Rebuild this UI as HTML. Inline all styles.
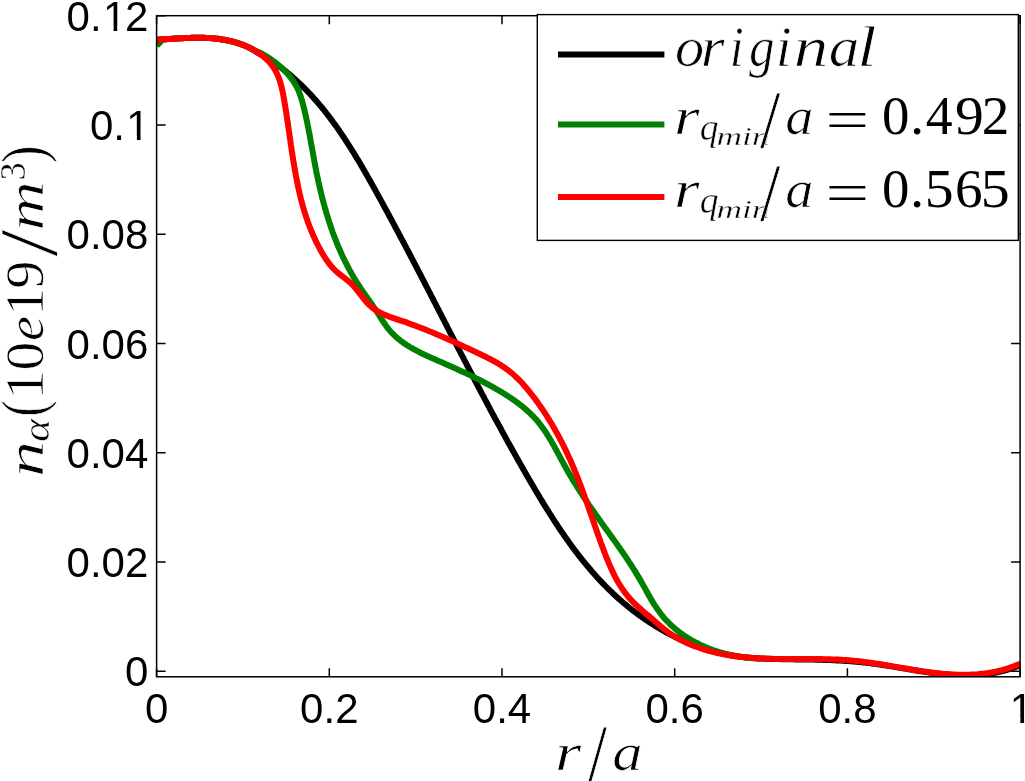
<!DOCTYPE html>
<html><head><meta charset="utf-8"><title>n_alpha profile</title>
<style>
html,body{margin:0;padding:0;background:#fff;}
body{width:1025px;height:781px;overflow:hidden;}
svg{display:block;}
.tk{font-family:"Liberation Sans",Arial,sans-serif;font-size:42px;fill:#000;}
.mi{font-family:"Liberation Serif","Times New Roman",serif;font-style:italic;fill:#000;stroke:#fff;}
.rm{font-family:"Liberation Serif","Times New Roman",serif;fill:#000;stroke:#fff;}
</style></head>
<body>
<svg width="1025" height="781" viewBox="0 0 1025 781">
<rect x="0" y="0" width="1025" height="781" fill="#fff"/>
<defs><clipPath id="ax"><rect x="156.6" y="15.7" width="863.5" height="661.1"/></clipPath></defs>
<g clip-path="url(#ax)" fill="none" stroke-width="6" stroke-linejoin="round" stroke-linecap="butt">
<path d="M157.0 39.8 L158.5 39.7 L160.0 39.6 L161.5 39.5 L163.0 39.4 L164.5 39.3 L166.0 39.2 L167.5 39.1 L169.0 39.0 L170.5 38.9 L172.0 38.8 L173.5 38.7 L175.0 38.6 L176.6 38.5 L178.1 38.4 L179.6 38.3 L181.1 38.2 L182.7 38.2 L184.2 38.1 L185.7 38.0 L187.3 38.0 L188.8 37.9 L190.3 37.9 L191.9 37.8 L193.4 37.8 L194.9 37.8 L196.4 37.7 L198.0 37.7 L199.5 37.7 L201.0 37.8 L202.6 37.8 L204.1 37.8 L205.6 37.9 L207.2 38.0 L208.7 38.0 L210.2 38.1 L211.7 38.2 L213.2 38.4 L214.8 38.5 L216.3 38.7 L217.8 38.8 L219.3 39.0 L220.8 39.2 L222.3 39.5 L223.8 39.7 L225.3 40.0 L226.8 40.3 L228.3 40.6 L229.8 40.9 L231.2 41.3 L232.7 41.6 L234.2 42.0 L235.7 42.5 L237.1 42.9 L238.6 43.4 L240.0 43.9 L241.5 44.4 L242.9 44.9 L244.4 45.5 L245.8 46.1 L247.2 46.7 L248.9 47.5 L250.2 48.2 L251.5 48.9 L252.8 49.7 L254.1 50.5 L255.4 51.3 L256.7 52.1 L258.0 52.9 L259.3 53.6 L260.5 54.3 L261.8 55.0 L263.1 55.8 L264.3 56.5 L265.6 57.2 L266.8 58.0 L268.1 58.8 L269.3 59.6 L270.5 60.3 L271.7 61.1 L272.9 62.0 L274.2 62.8 L275.4 63.6 L276.6 64.5 L277.7 65.3 L278.9 66.2 L280.1 67.0 L281.3 67.9 L282.5 68.8 L283.6 69.7 L284.8 70.6 L285.9 71.5 L287.1 72.4 L288.2 73.4 L289.3 74.3 L290.5 75.3 L291.6 76.2 L292.7 77.2 L293.8 78.2 L294.9 79.1 L296.0 80.1 L297.1 81.1 L298.1 82.1 L299.2 83.1 L300.3 84.1 L301.3 85.1 L302.4 86.2 L303.4 87.2 L304.5 88.2 L305.5 89.3 L306.5 90.3 L307.6 91.4 L308.6 92.5 L309.6 93.5 L310.6 94.6 L311.6 95.7 L312.6 96.8 L313.6 97.9 L314.6 99.0 L315.5 100.1 L316.5 101.2 L317.5 102.3 L318.4 103.4 L319.4 104.5 L320.3 105.7 L321.3 106.8 L322.2 107.9 L323.1 109.1 L324.1 110.2 L325.0 111.4 L325.9 112.5 L326.8 113.7 L327.7 114.9 L328.6 116.0 L329.5 117.2 L330.4 118.4 L331.3 119.6 L332.2 120.8 L333.0 122.0 L333.9 123.2 L334.8 124.4 L335.7 125.6 L336.5 126.8 L337.4 128.0 L338.2 129.2 L339.1 130.4 L339.9 131.7 L340.8 132.9 L341.6 134.1 L342.4 135.3 L343.2 136.6 L344.1 137.8 L344.9 139.1 L345.7 140.3 L346.5 141.6 L347.3 142.8 L348.1 144.1 L348.9 145.3 L349.8 146.6 L350.5 147.9 L351.3 149.1 L352.1 150.4 L352.9 151.7 L353.7 152.9 L354.5 154.2 L355.3 155.5 L356.0 156.8 L356.8 158.1 L357.6 159.3 L358.4 160.6 L359.1 161.9 L359.9 163.2 L360.7 164.5 L361.4 165.8 L362.2 167.1 L362.9 168.4 L363.7 169.7 L364.4 171.0 L365.2 172.3 L365.9 173.6 L366.7 174.9 L367.4 176.2 L368.2 177.5 L368.9 178.8 L369.6 180.1 L370.4 181.4 L371.1 182.7 L371.8 184.0 L372.6 185.3 L373.3 186.6 L374.0 187.9 L374.8 189.2 L375.5 190.6 L376.2 191.9 L376.9 193.2 L377.7 194.5 L378.4 195.8 L379.1 197.1 L379.8 198.4 L380.5 199.7 L381.3 201.0 L382.0 202.4 L382.7 203.7 L383.4 205.0 L384.1 206.3 L384.8 207.6 L385.5 208.9 L386.3 210.2 L387.0 211.5 L387.7 212.8 L388.4 214.2 L389.1 215.5 L389.8 216.8 L390.5 218.1 L391.2 219.4 L391.9 220.7 L392.6 222.0 L393.3 223.3 L394.0 224.6 L394.7 226.0 L395.4 227.3 L396.1 228.6 L396.8 229.9 L397.5 231.2 L398.2 232.5 L398.9 233.8 L399.6 235.1 L400.3 236.5 L401.0 237.8 L401.7 239.1 L402.4 240.4 L403.1 241.7 L403.8 243.0 L404.5 244.3 L405.2 245.6 L405.9 247.0 L406.6 248.3 L407.3 249.6 L408.0 250.9 L408.6 252.2 L409.3 253.5 L410.0 254.8 L410.7 256.2 L411.4 257.5 L412.1 258.8 L412.8 260.1 L413.4 261.4 L414.1 262.7 L414.8 264.0 L415.5 265.3 L416.2 266.7 L416.9 268.0 L417.6 269.3 L418.2 270.6 L418.9 271.9 L419.6 273.2 L420.3 274.5 L421.0 275.8 L421.6 277.2 L422.3 278.5 L423.0 279.8 L423.7 281.1 L424.4 282.4 L425.0 283.7 L425.7 285.0 L426.4 286.4 L427.1 287.7 L427.8 289.0 L428.4 290.3 L429.1 291.6 L429.8 292.9 L430.5 294.2 L431.1 295.5 L431.8 296.9 L432.5 298.2 L433.2 299.5 L433.8 300.8 L434.5 302.1 L435.2 303.4 L435.9 304.7 L436.5 306.0 L437.2 307.4 L437.9 308.7 L438.6 310.0 L439.2 311.3 L439.9 312.6 L440.6 313.9 L441.3 315.2 L441.9 316.5 L442.6 317.9 L443.3 319.2 L444.0 320.5 L444.6 321.8 L445.3 323.1 L446.0 324.4 L446.7 325.7 L447.3 327.0 L448.0 328.4 L448.7 329.7 L449.4 331.0 L450.0 332.3 L450.7 333.6 L451.4 334.9 L452.1 336.2 L452.7 337.5 L453.4 338.8 L454.1 340.2 L454.8 341.5 L455.4 342.8 L456.1 344.1 L456.8 345.4 L457.5 346.7 L458.1 348.0 L458.8 349.3 L459.5 350.6 L460.2 352.0 L460.8 353.3 L461.5 354.6 L462.2 355.9 L462.9 357.2 L463.6 358.5 L464.2 359.8 L464.9 361.1 L465.6 362.4 L466.3 363.7 L467.0 365.1 L467.6 366.4 L468.3 367.7 L469.0 369.0 L469.7 370.3 L470.4 371.6 L471.0 372.9 L471.7 374.2 L472.4 375.5 L473.1 376.8 L473.8 378.1 L474.5 379.4 L475.1 380.8 L475.8 382.1 L476.5 383.4 L477.2 384.7 L477.9 386.0 L478.6 387.3 L479.3 388.6 L479.9 389.9 L480.6 391.2 L481.3 392.5 L482.0 393.8 L482.7 395.1 L483.4 396.4 L484.1 397.7 L484.8 399.1 L485.5 400.4 L486.2 401.7 L486.9 403.0 L487.6 404.3 L488.2 405.6 L488.9 406.9 L489.6 408.2 L490.3 409.5 L491.0 410.8 L491.7 412.1 L492.4 413.4 L493.1 414.7 L493.8 416.0 L494.5 417.3 L495.2 418.6 L495.9 419.9 L496.6 421.2 L497.4 422.5 L498.1 423.8 L498.8 425.1 L499.5 426.4 L500.2 427.7 L500.9 429.0 L501.6 430.3 L502.3 431.6 L503.0 432.9 L503.7 434.2 L504.4 435.5 L505.2 436.8 L505.9 438.2 L506.6 439.5 L507.3 440.8 L508.0 442.1 L508.7 443.4 L509.5 444.6 L510.2 445.9 L510.9 447.2 L511.6 448.5 L512.3 449.8 L513.1 451.1 L513.8 452.4 L514.5 453.7 L515.3 455.0 L516.0 456.3 L516.7 457.6 L517.4 458.9 L518.2 460.2 L518.9 461.5 L519.6 462.8 L520.4 464.1 L521.1 465.4 L521.9 466.7 L522.6 468.0 L523.3 469.3 L524.1 470.6 L524.8 471.9 L525.6 473.2 L526.3 474.5 L527.0 475.8 L527.8 477.1 L528.5 478.4 L529.3 479.7 L530.0 480.9 L530.8 482.2 L531.5 483.5 L532.3 484.8 L533.1 486.1 L533.8 487.4 L534.6 488.7 L535.3 490.0 L536.1 491.3 L536.9 492.6 L537.6 493.8 L538.4 495.1 L539.2 496.4 L539.9 497.7 L540.7 499.0 L541.5 500.3 L542.3 501.5 L543.0 502.8 L543.8 504.1 L544.6 505.4 L545.4 506.7 L546.2 507.9 L547.0 509.2 L547.8 510.5 L548.6 511.7 L549.4 513.0 L550.2 514.3 L551.0 515.5 L551.8 516.8 L552.6 518.1 L553.4 519.3 L554.2 520.6 L555.0 521.8 L555.8 523.1 L556.7 524.3 L557.5 525.6 L558.3 526.8 L559.1 528.1 L560.0 529.3 L560.8 530.5 L561.6 531.8 L562.5 533.0 L563.3 534.2 L564.2 535.5 L565.0 536.7 L565.9 537.9 L566.7 539.1 L567.6 540.3 L568.5 541.6 L569.3 542.8 L570.2 544.0 L571.1 545.2 L572.0 546.4 L572.8 547.6 L573.7 548.8 L574.6 550.0 L575.5 551.2 L576.4 552.3 L577.3 553.5 L578.2 554.7 L579.1 555.9 L580.0 557.0 L581.0 558.2 L581.9 559.4 L582.8 560.5 L583.7 561.7 L584.7 562.8 L585.6 564.0 L586.6 565.1 L587.5 566.2 L588.5 567.4 L589.4 568.5 L590.4 569.6 L591.3 570.8 L592.3 571.9 L593.3 573.0 L594.3 574.1 L595.2 575.2 L596.2 576.3 L597.2 577.4 L598.2 578.5 L599.2 579.6 L600.2 580.6 L601.2 581.7 L602.3 582.8 L603.3 583.8 L604.3 584.9 L605.4 586.0 L606.4 587.0 L607.4 588.1 L608.5 589.1 L609.5 590.1 L610.6 591.1 L611.7 592.2 L612.7 593.2 L613.8 594.2 L614.9 595.2 L616.0 596.2 L617.1 597.2 L618.2 598.2 L619.3 599.2 L620.4 600.1 L621.5 601.1 L622.6 602.1 L623.7 603.0 L624.9 604.0 L626.0 604.9 L627.1 605.9 L628.3 606.8 L629.4 607.7 L630.6 608.7 L631.8 609.6 L632.9 610.5 L634.1 611.4 L635.3 612.3 L636.5 613.2 L637.6 614.0 L638.8 614.9 L640.0 615.8 L641.2 616.6 L642.4 617.5 L643.6 618.3 L644.9 619.2 L646.1 620.0 L647.3 620.8 L648.5 621.6 L649.8 622.4 L651.0 623.2 L652.2 624.0 L653.5 624.8 L654.7 625.6 L656.0 626.4 L657.2 627.1 L658.5 627.9 L659.8 628.6 L661.1 629.4 L662.3 630.1 L663.6 630.8 L664.9 631.6 L666.2 632.3 L667.5 633.0 L668.8 633.7 L670.1 634.3 L671.4 635.0 L672.7 635.7 L674.0 636.3 L675.3 637.0 L676.6 637.6 L678.0 638.3 L679.3 638.9 L680.6 639.5 L682.0 640.1 L683.3 640.7 L684.7 641.3 L686.0 641.9 L687.4 642.4 L688.7 643.0 L690.1 643.5 L691.4 644.1 L692.8 644.6 L694.2 645.1 L695.5 645.6 L696.9 646.2 L698.3 646.6 L699.7 647.1 L701.1 647.6 L702.5 648.1 L703.8 648.5 L705.2 649.0 L706.6 649.4 L708.0 649.8 L709.4 650.3 L710.9 650.7 L712.3 651.1 L713.7 651.4 L715.1 651.8 L716.5 652.2 L717.9 652.5 L719.4 652.9 L720.8 653.2 L722.2 653.5 L723.7 653.8 L725.1 654.1 L726.5 654.4 L728.0 654.7 L729.4 655.0 L730.9 655.2 L732.3 655.5 L733.8 655.7 L735.2 656.0 L736.7 656.2 L738.2 656.4 L739.6 656.6 L741.1 656.8 L742.5 656.9 L744.0 657.1 L745.5 657.3 L747.0 657.4 L748.4 657.6 L749.9 657.7 L751.4 657.8 L752.9 657.9 L754.4 658.1 L755.8 658.2 L757.3 658.3 L758.8 658.4 L760.3 658.4 L761.8 658.5 L763.3 658.6 L764.8 658.7 L766.3 658.7 L767.8 658.8 L769.2 658.8 L770.7 658.9 L772.2 658.9 L773.7 659.0 L775.2 659.0 L776.7 659.1 L778.2 659.1 L779.7 659.1 L781.2 659.2 L782.7 659.2 L784.2 659.2 L785.7 659.2 L787.2 659.3 L788.7 659.3 L790.2 659.3 L791.7 659.3 L793.2 659.3 L794.7 659.4 L796.2 659.4 L797.7 659.4 L799.2 659.4 L800.7 659.4 L802.2 659.4 L803.7 659.5 L805.2 659.5 L806.7 659.5 L808.2 659.5 L809.7 659.6 L811.2 659.6 L812.7 659.6 L814.2 659.6 L815.7 659.7 L817.2 659.7 L818.7 659.8 L820.2 659.8 L821.7 659.8 L823.2 659.9 L824.7 659.9 L826.1 660.0 L827.6 660.0 L829.1 660.1 L830.6 660.1 L832.1 660.2 L833.6 660.3 L835.1 660.3 L836.6 660.4 L838.1 660.5 L839.6 660.5 L841.1 660.6 L842.5 660.7 L844.0 660.8 L845.5 660.9 L847.0 661.0 L848.5 661.1 L850.0 661.2 L851.5 661.3 L852.9 661.4 L854.4 661.6 L855.9 661.7 L857.4 661.8 L858.9 662.0 L860.4 662.1 L861.8 662.3 L863.3 662.4 L864.8 662.6 L866.3 662.8 L867.8 662.9 L869.3 663.1 L870.7 663.3 L872.2 663.5 L873.7 663.7 L875.2 663.9 L876.6 664.1 L878.1 664.3 L879.6 664.5 L881.1 664.8 L882.5 665.0 L884.0 665.2 L885.5 665.4 L887.0 665.7 L888.4 665.9 L889.9 666.1 L891.4 666.4 L892.9 666.6 L894.3 666.9 L895.8 667.1 L897.3 667.4 L898.7 667.6 L900.2 667.9 L901.7 668.1 L903.2 668.3 L904.6 668.6 L906.1 668.8 L907.6 669.1 L909.0 669.3 L910.5 669.6 L912.0 669.8 L913.4 670.0 L914.9 670.3 L916.3 670.5 L917.8 670.8 L919.3 671.0 L920.7 671.2 L922.2 671.4 L923.7 671.6 L925.1 671.9 L926.6 672.1 L928.0 672.3 L929.5 672.5 L931.0 672.7 L932.4 672.9 L933.9 673.1 L935.3 673.2 L936.8 673.4 L938.2 673.6 L939.7 673.8 L941.2 673.9 L942.6 674.1 L944.1 674.2 L945.5 674.3 L947.0 674.5 L948.4 674.6 L949.9 674.7 L951.3 674.8 L952.8 674.9 L954.2 675.0 L955.7 675.1 L957.1 675.1 L958.6 675.2 L960.0 675.2 L961.5 675.3 L962.9 675.3 L964.4 675.3 L965.8 675.3 L967.3 675.3 L968.7 675.3 L970.2 675.3 L971.6 675.2 L973.1 675.2 L974.5 675.1 L976.0 675.0 L977.4 674.9 L978.8 674.8 L980.3 674.7 L981.7 674.6 L983.2 674.4 L984.6 674.3 L986.1 674.1 L987.5 673.9 L988.9 673.7 L990.4 673.5 L991.8 673.3 L993.3 673.0 L994.7 672.7 L996.1 672.5 L997.6 672.2 L999.0 671.8 L1000.4 671.5 L1001.9 671.1 L1003.3 670.8 L1004.8 670.4 L1006.2 670.0 L1007.6 669.6 L1009.1 669.1 L1010.5 668.7 L1011.9 668.2 L1013.4 667.7 L1014.8 667.2 L1016.2 666.6 L1017.7 666.1 L1019.1 665.5 L1020.5 664.9" stroke="#000"/>
<path d="M156.8 45.6 L162.0 40.4 L157.0 39.8 L158.5 39.7 L160.0 39.6 L161.5 39.5 L163.0 39.4 L164.5 39.3 L166.0 39.2 L167.5 39.1 L169.0 39.0 L170.5 38.9 L172.0 38.8 L173.5 38.7 L175.0 38.6 L176.6 38.5 L178.1 38.4 L179.6 38.3 L181.1 38.2 L182.7 38.2 L184.2 38.1 L185.7 38.0 L187.3 38.0 L188.8 37.9 L190.3 37.9 L191.9 37.8 L193.4 37.8 L194.9 37.8 L196.4 37.7 L198.0 37.7 L199.5 37.7 L201.0 37.8 L202.6 37.8 L204.1 37.8 L205.6 37.9 L207.2 38.0 L208.7 38.0 L210.2 38.1 L211.7 38.2 L213.2 38.4 L214.8 38.5 L216.3 38.7 L217.8 38.8 L219.3 39.0 L220.8 39.2 L222.3 39.5 L223.8 39.7 L225.3 40.0 L226.8 40.3 L228.3 40.6 L229.8 40.9 L231.2 41.3 L232.7 41.6 L234.2 42.0 L235.7 42.5 L237.1 42.9 L238.6 43.4 L240.0 43.9 L241.5 44.4 L242.9 44.9 L244.4 45.5 L245.8 46.1 L247.2 46.7 L249.0 47.5 L250.0 48.0 L251.1 48.6 L252.2 49.1 L253.2 49.6 L254.3 50.1 L255.3 50.6 L256.4 51.1 L257.4 51.6 L258.4 52.0 L259.5 52.5 L260.5 53.0 L261.5 53.5 L262.5 54.0 L263.5 54.6 L264.5 55.2 L265.5 55.8 L266.5 56.4 L267.5 57.0 L268.5 57.6 L269.4 58.3 L270.4 58.9 L271.3 59.6 L272.3 60.2 L273.2 60.9 L274.2 61.6 L275.1 62.3 L276.0 63.0 L276.9 63.7 L277.8 64.5 L278.7 65.2 L279.6 66.0 L280.5 66.8 L281.3 67.5 L282.2 68.3 L283.0 69.1 L283.9 69.9 L284.7 70.8 L285.5 71.6 L286.3 72.4 L287.1 73.3 L287.9 74.2 L288.6 75.0 L289.4 75.9 L290.1 76.8 L290.8 77.7 L291.5 78.7 L292.2 79.6 L292.9 80.5 L293.5 81.5 L294.1 82.4 L294.7 83.4 L295.3 84.4 L295.9 85.4 L296.5 86.4 L297.0 87.4 L297.5 88.5 L298.0 89.5 L298.4 90.5 L298.9 91.6 L299.3 92.7 L299.7 93.7 L300.1 94.8 L300.5 95.9 L300.9 97.0 L301.2 98.1 L301.5 99.2 L301.9 100.3 L302.2 101.4 L302.5 102.6 L302.8 103.7 L303.1 104.8 L303.4 105.9 L303.7 107.1 L304.0 108.2 L304.2 109.3 L304.5 110.4 L304.8 111.6 L305.0 112.7 L305.3 113.8 L305.6 115.0 L305.8 116.1 L306.1 117.2 L306.3 118.4 L306.5 119.5 L306.8 120.6 L307.0 121.8 L307.3 122.9 L307.5 124.0 L307.7 125.2 L307.9 126.3 L308.2 127.4 L308.4 128.6 L308.6 129.7 L308.8 130.9 L309.0 132.0 L309.3 133.1 L309.5 134.3 L309.7 135.4 L309.9 136.5 L310.1 137.7 L310.3 138.8 L310.5 140.0 L310.7 141.1 L310.9 142.3 L311.1 143.4 L311.3 144.5 L311.6 145.7 L311.8 146.8 L312.0 148.0 L312.2 149.1 L312.4 150.2 L312.6 151.4 L312.8 152.5 L313.0 153.7 L313.2 154.8 L313.4 156.0 L313.6 157.1 L313.8 158.2 L314.0 159.4 L314.2 160.5 L314.4 161.7 L314.6 162.8 L314.9 164.0 L315.1 165.1 L315.3 166.2 L315.5 167.4 L315.7 168.5 L316.0 169.7 L316.2 170.8 L316.4 172.0 L316.6 173.1 L316.9 174.2 L317.1 175.4 L317.3 176.5 L317.6 177.7 L317.8 178.8 L318.1 179.9 L318.3 181.1 L318.6 182.2 L318.8 183.4 L319.1 184.5 L319.3 185.6 L319.6 186.8 L319.8 187.9 L320.1 189.0 L320.4 190.2 L320.6 191.3 L320.9 192.4 L321.2 193.6 L321.5 194.7 L321.7 195.8 L322.0 197.0 L322.3 198.1 L322.6 199.2 L322.9 200.3 L323.2 201.5 L323.5 202.6 L323.8 203.7 L324.1 204.8 L324.4 206.0 L324.7 207.1 L325.0 208.2 L325.4 209.3 L325.7 210.4 L326.0 211.6 L326.3 212.7 L326.7 213.8 L327.0 214.9 L327.3 216.0 L327.7 217.1 L328.0 218.2 L328.4 219.4 L328.7 220.5 L329.1 221.6 L329.4 222.7 L329.8 223.8 L330.2 224.9 L330.5 226.0 L330.9 227.1 L331.3 228.2 L331.7 229.3 L332.1 230.4 L332.4 231.5 L332.8 232.5 L333.2 233.6 L333.6 234.7 L334.0 235.8 L334.4 236.9 L334.9 238.0 L335.3 239.0 L335.7 240.1 L336.1 241.2 L336.6 242.3 L337.0 243.3 L337.4 244.4 L337.9 245.5 L338.3 246.6 L338.8 247.6 L339.2 248.7 L339.7 249.7 L340.1 250.8 L340.6 251.9 L341.1 252.9 L341.6 254.0 L342.0 255.0 L342.5 256.1 L343.0 257.1 L343.5 258.1 L344.0 259.2 L344.5 260.2 L345.0 261.3 L345.5 262.3 L346.1 263.3 L346.6 264.4 L347.1 265.4 L347.6 266.4 L348.2 267.4 L348.7 268.4 L349.3 269.5 L349.8 270.5 L350.4 271.5 L350.9 272.5 L351.5 273.5 L352.1 274.5 L352.6 275.5 L353.2 276.5 L353.8 277.5 L354.4 278.5 L355.0 279.5 L355.6 280.5 L356.2 281.4 L356.8 282.4 L357.5 283.4 L358.1 284.4 L358.7 285.3 L359.3 286.3 L360.0 287.3 L360.6 288.2 L361.3 289.2 L361.9 290.2 L362.6 291.1 L363.2 292.1 L363.9 293.0 L364.6 294.0 L365.2 294.9 L365.9 295.9 L366.6 296.8 L367.3 297.8 L367.9 298.7 L368.6 299.7 L369.3 300.6 L370.0 301.6 L370.6 302.5 L371.3 303.5 L372.0 304.5 L372.6 305.4 L373.3 306.4 L374.0 307.4 L374.6 308.3 L375.3 309.3 L375.9 310.3 L376.6 311.3 L377.2 312.3 L377.8 313.3 L378.5 314.3 L379.1 315.3 L379.7 316.3 L380.4 317.3 L381.0 318.3 L381.6 319.3 L382.3 320.2 L382.9 321.2 L383.6 322.2 L384.2 323.2 L384.9 324.1 L385.6 325.1 L386.2 326.0 L386.9 327.0 L387.6 327.9 L388.3 328.8 L389.0 329.7 L389.8 330.5 L390.5 331.4 L391.3 332.3 L392.1 333.1 L392.9 333.9 L393.7 334.7 L394.5 335.5 L395.3 336.2 L396.1 337.0 L397.0 337.8 L397.8 338.5 L398.7 339.2 L399.6 339.9 L400.5 340.6 L401.4 341.3 L402.3 342.0 L403.2 342.6 L404.1 343.3 L405.1 343.9 L406.0 344.5 L406.9 345.2 L407.9 345.8 L408.9 346.4 L409.9 347.0 L410.8 347.5 L411.8 348.1 L412.8 348.7 L413.8 349.2 L414.8 349.8 L415.9 350.3 L416.9 350.9 L417.9 351.4 L418.9 351.9 L420.0 352.5 L421.0 353.0 L422.0 353.5 L423.1 354.0 L424.1 354.5 L425.2 355.0 L426.3 355.5 L427.3 356.0 L428.4 356.4 L429.4 356.9 L430.5 357.4 L431.6 357.9 L432.6 358.4 L433.7 358.8 L434.8 359.3 L435.9 359.8 L436.9 360.2 L438.0 360.7 L439.1 361.2 L440.2 361.6 L441.2 362.1 L442.3 362.6 L443.4 363.1 L444.4 363.5 L445.5 364.0 L446.6 364.5 L447.6 364.9 L448.7 365.4 L449.8 365.9 L450.8 366.4 L451.9 366.8 L452.9 367.3 L454.0 367.8 L455.1 368.3 L456.1 368.7 L457.2 369.2 L458.2 369.7 L459.3 370.2 L460.4 370.7 L461.4 371.2 L462.5 371.7 L463.5 372.1 L464.6 372.6 L465.6 373.1 L466.7 373.6 L467.7 374.1 L468.7 374.6 L469.8 375.1 L470.8 375.6 L471.9 376.1 L472.9 376.7 L474.0 377.2 L475.0 377.7 L476.0 378.2 L477.1 378.7 L478.1 379.2 L479.1 379.8 L480.2 380.3 L481.2 380.8 L482.2 381.3 L483.2 381.9 L484.3 382.4 L485.3 383.0 L486.3 383.5 L487.3 384.1 L488.4 384.6 L489.4 385.2 L490.4 385.7 L491.4 386.3 L492.4 386.8 L493.4 387.4 L494.5 388.0 L495.5 388.6 L496.5 389.1 L497.5 389.7 L498.5 390.3 L499.5 390.9 L500.5 391.5 L501.5 392.1 L502.5 392.7 L503.5 393.3 L504.5 393.9 L505.5 394.6 L506.5 395.2 L507.4 395.8 L508.4 396.4 L509.4 397.1 L510.4 397.7 L511.3 398.4 L512.3 399.0 L513.3 399.7 L514.2 400.4 L515.2 401.0 L516.1 401.7 L517.1 402.4 L518.0 403.1 L518.9 403.8 L519.8 404.5 L520.7 405.2 L521.7 405.9 L522.6 406.6 L523.4 407.4 L524.3 408.1 L525.2 408.8 L526.1 409.6 L526.9 410.4 L527.8 411.1 L528.6 411.9 L529.5 412.7 L530.3 413.5 L531.1 414.3 L531.9 415.1 L532.7 415.9 L533.5 416.7 L534.3 417.6 L535.1 418.4 L535.9 419.2 L536.6 420.1 L537.4 421.0 L538.1 421.8 L538.8 422.7 L539.5 423.6 L540.2 424.5 L540.9 425.4 L541.6 426.3 L542.3 427.3 L542.9 428.2 L543.6 429.1 L544.3 430.1 L544.9 431.0 L545.5 432.0 L546.2 432.9 L546.8 433.9 L547.4 434.9 L548.0 435.8 L548.6 436.8 L549.2 437.8 L549.8 438.8 L550.4 439.8 L551.0 440.8 L551.6 441.8 L552.2 442.8 L552.7 443.8 L553.3 444.8 L553.9 445.8 L554.5 446.8 L555.0 447.8 L555.6 448.9 L556.1 449.9 L556.7 450.9 L557.2 451.9 L557.8 453.0 L558.4 454.0 L558.9 455.0 L559.5 456.0 L560.0 457.1 L560.6 458.1 L561.1 459.1 L561.7 460.2 L562.2 461.2 L562.8 462.2 L563.3 463.2 L563.9 464.3 L564.4 465.3 L565.0 466.3 L565.6 467.3 L566.1 468.3 L566.7 469.4 L567.3 470.4 L567.8 471.4 L568.4 472.4 L569.0 473.4 L569.6 474.4 L570.2 475.4 L570.8 476.4 L571.4 477.4 L571.9 478.4 L572.5 479.4 L573.1 480.4 L573.7 481.4 L574.3 482.4 L575.0 483.3 L575.6 484.3 L576.2 485.3 L576.8 486.3 L577.4 487.3 L578.0 488.2 L578.6 489.2 L579.3 490.2 L579.9 491.2 L580.5 492.1 L581.1 493.1 L581.8 494.1 L582.4 495.0 L583.0 496.0 L583.7 497.0 L584.3 497.9 L585.0 498.9 L585.6 499.9 L586.3 500.8 L586.9 501.8 L587.5 502.7 L588.2 503.7 L588.8 504.6 L589.5 505.6 L590.1 506.6 L590.8 507.5 L591.5 508.5 L592.1 509.4 L592.8 510.4 L593.4 511.3 L594.1 512.3 L594.8 513.2 L595.4 514.1 L596.1 515.1 L596.8 516.0 L597.4 517.0 L598.1 517.9 L598.8 518.9 L599.4 519.8 L600.1 520.8 L600.8 521.7 L601.4 522.6 L602.1 523.6 L602.8 524.5 L603.5 525.5 L604.1 526.4 L604.8 527.4 L605.5 528.3 L606.2 529.2 L606.9 530.2 L607.5 531.1 L608.2 532.1 L608.9 533.0 L609.6 533.9 L610.2 534.9 L610.9 535.8 L611.6 536.8 L612.3 537.7 L612.9 538.7 L613.6 539.6 L614.3 540.6 L615.0 541.5 L615.6 542.4 L616.3 543.4 L617.0 544.3 L617.7 545.3 L618.3 546.2 L619.0 547.2 L619.7 548.1 L620.3 549.1 L621.0 550.0 L621.7 551.0 L622.3 552.0 L623.0 552.9 L623.6 553.9 L624.3 554.8 L625.0 555.8 L625.6 556.8 L626.3 557.7 L626.9 558.7 L627.5 559.7 L628.2 560.6 L628.8 561.6 L629.5 562.6 L630.1 563.5 L630.7 564.5 L631.4 565.5 L632.0 566.5 L632.6 567.5 L633.2 568.4 L633.9 569.4 L634.5 570.4 L635.1 571.4 L635.7 572.4 L636.3 573.4 L636.9 574.4 L637.5 575.4 L638.1 576.4 L638.7 577.4 L639.3 578.4 L639.9 579.4 L640.5 580.4 L641.0 581.4 L641.6 582.4 L642.2 583.4 L642.8 584.5 L643.3 585.5 L643.9 586.5 L644.5 587.5 L645.0 588.5 L645.6 589.5 L646.2 590.6 L646.7 591.6 L647.3 592.6 L647.9 593.6 L648.4 594.6 L649.0 595.6 L649.6 596.6 L650.2 597.6 L650.7 598.6 L651.3 599.6 L651.9 600.6 L652.5 601.6 L653.1 602.6 L653.7 603.6 L654.3 604.6 L655.0 605.5 L655.6 606.5 L656.2 607.4 L656.9 608.4 L657.5 609.3 L658.2 610.3 L658.8 611.2 L659.5 612.1 L660.2 613.0 L660.9 614.0 L661.6 614.9 L662.3 615.7 L663.0 616.6 L663.7 617.5 L664.5 618.4 L665.2 619.2 L666.0 620.1 L666.8 620.9 L667.6 621.7 L668.4 622.5 L669.2 623.3 L670.0 624.1 L670.8 624.9 L671.7 625.7 L672.5 626.5 L673.4 627.2 L674.2 628.0 L675.1 628.7 L676.0 629.5 L676.9 630.2 L677.8 630.9 L678.7 631.6 L679.6 632.3 L680.5 633.0 L681.5 633.7 L682.4 634.4 L683.4 635.0 L684.3 635.7 L685.3 636.3 L686.3 636.9 L687.2 637.6 L688.2 638.2 L689.2 638.8 L690.2 639.4 L691.2 640.0 L692.2 640.6 L693.2 641.1 L694.3 641.7 L695.3 642.2 L696.3 642.8 L697.4 643.3 L698.4 643.8 L699.5 644.4 L700.5 644.9 L701.6 645.4 L702.6 645.8 L703.7 646.3 L704.8 646.8 L705.9 647.2 L706.9 647.7 L708.0 648.1 L709.1 648.6 L710.2 649.0 L711.3 649.4 L712.4 649.8 L713.5 650.2 L714.6 650.6 L715.7 651.0 L716.8 651.3 L718.0 651.7 L719.1 652.0 L720.2 652.4 L721.3 652.7 L722.4 653.0 L723.6 653.3 L724.7 653.6 L725.8 653.9 L727.0 654.2 L728.1 654.5 L729.2 654.8 L730.4 655.0 L731.5 655.3 L732.6 655.5 L733.8 655.7 L734.9 656.0 L736.0 656.2 L737.2 656.4 L738.3 656.6 L739.4 656.7 L740.6 656.9 L741.7 657.1 L742.9 657.2 L744.0 657.4 L745.1 657.5 L746.3 657.7 L747.4 657.8 L748.5 657.9 L749.6 658.0 L750.8 658.1 L751.9 658.2 L753.0 658.2 L754.1 658.3 L755.3 658.3 L756.4 658.4 L757.5 658.4 L758.6 658.4 L759.7 658.5" stroke="#008000"/>
<path d="M157.0 39.8 L158.5 39.7 L160.0 39.6 L161.5 39.5 L163.0 39.4 L164.5 39.3 L166.0 39.2 L167.5 39.1 L169.0 39.0 L170.5 38.9 L172.0 38.8 L173.5 38.7 L175.0 38.6 L176.6 38.5 L178.1 38.4 L179.6 38.3 L181.1 38.2 L182.7 38.2 L184.2 38.1 L185.7 38.0 L187.3 38.0 L188.8 37.9 L190.3 37.9 L191.9 37.8 L193.4 37.8 L194.9 37.8 L196.4 37.7 L198.0 37.7 L199.5 37.7 L201.0 37.8 L202.6 37.8 L204.1 37.8 L205.6 37.9 L207.2 38.0 L208.7 38.0 L210.2 38.1 L211.7 38.2 L213.2 38.4 L214.8 38.5 L216.3 38.7 L217.8 38.8 L219.3 39.0 L220.8 39.2 L222.3 39.5 L223.8 39.7 L225.3 40.0 L226.8 40.3 L228.3 40.6 L229.8 40.9 L231.2 41.3 L232.7 41.6 L234.2 42.0 L235.7 42.5 L237.1 42.9 L238.6 43.4 L240.0 43.9 L241.5 44.4 L242.9 44.9 L244.4 45.5 L245.8 46.1 L247.2 46.7 L248.6 47.3 L250.0 48.0 L251.4 48.7 L252.7 49.4 L254.1 50.2 L255.4 51.0 L256.7 51.8 L258.0 52.6 L259.2 53.4 L260.5 54.3 L261.7 55.2 L262.9 56.1 L264.0 57.1 L265.2 58.1 L266.3 59.1 L267.3 60.1 L268.4 61.1 L269.4 62.2 L270.4 63.3 L271.3 64.5 L272.2 65.6 L273.1 66.8 L273.9 68.0 L274.6 69.2 L275.4 70.5 L276.1 71.8 L276.7 73.1 L277.3 74.4 L277.9 75.8 L278.5 77.1 L279.0 78.5 L279.5 79.9 L280.0 81.3 L280.4 82.8 L280.8 84.2 L281.2 85.7 L281.6 87.2 L281.9 88.7 L282.3 90.1 L282.6 91.6 L282.9 93.2 L283.2 94.7 L283.5 96.2 L283.7 97.7 L284.0 99.2 L284.3 100.8 L284.5 102.3 L284.8 103.8 L285.0 105.3 L285.3 106.9 L285.5 108.4 L285.8 109.9 L286.0 111.4 L286.3 113.0 L286.5 114.5 L286.7 116.0 L287.0 117.6 L287.2 119.1 L287.4 120.6 L287.6 122.1 L287.9 123.7 L288.1 125.2 L288.3 126.7 L288.5 128.3 L288.8 129.8 L289.0 131.3 L289.2 132.8 L289.4 134.4 L289.6 135.9 L289.8 137.4 L290.1 138.9 L290.3 140.5 L290.5 142.0 L290.7 143.5 L290.9 145.0 L291.2 146.6 L291.4 148.1 L291.6 149.6 L291.8 151.1 L292.1 152.6 L292.3 154.1 L292.5 155.7 L292.8 157.2 L293.0 158.7 L293.2 160.2 L293.5 161.7 L293.7 163.2 L294.0 164.7 L294.2 166.2 L294.5 167.7 L294.7 169.2 L295.0 170.7 L295.3 172.2 L295.5 173.7 L295.8 175.2 L296.1 176.7 L296.4 178.2 L296.7 179.7 L297.0 181.2 L297.3 182.7 L297.6 184.2 L297.9 185.7 L298.2 187.2 L298.5 188.6 L298.8 190.1 L299.2 191.6 L299.5 193.1 L299.9 194.5 L300.2 196.0 L300.6 197.5 L300.9 198.9 L301.3 200.4 L301.7 201.8 L302.1 203.3 L302.5 204.8 L302.9 206.2 L303.3 207.7 L303.7 209.1 L304.1 210.5 L304.6 212.0 L305.0 213.4 L305.5 214.8 L305.9 216.3 L306.4 217.7 L306.9 219.1 L307.4 220.6 L307.9 222.0 L308.4 223.4 L308.9 224.8 L309.4 226.2 L310.0 227.6 L310.5 229.0 L311.1 230.4 L311.7 231.8 L312.3 233.2 L312.9 234.6 L313.5 236.0 L314.1 237.3 L314.7 238.7 L315.4 240.1 L316.0 241.5 L316.7 242.8 L317.4 244.2 L318.1 245.5 L318.8 246.9 L319.5 248.2 L320.2 249.6 L321.0 250.9 L321.7 252.3 L322.5 253.6 L323.3 254.9 L324.1 256.2 L324.9 257.5 L325.7 258.8 L326.6 260.1 L327.5 261.3 L328.4 262.6 L329.3 263.8 L330.3 265.0 L331.2 266.2 L332.2 267.3 L333.2 268.4 L334.3 269.5 L335.4 270.6 L336.5 271.6 L337.6 272.6 L338.8 273.5 L340.0 274.5 L341.2 275.4 L342.4 276.3 L343.6 277.2 L344.8 278.2 L346.0 279.1 L347.1 280.0 L348.3 281.0 L349.5 282.0 L350.6 283.0 L351.7 284.1 L352.8 285.1 L353.8 286.3 L354.8 287.4 L355.8 288.6 L356.8 289.8 L357.7 291.0 L358.7 292.2 L359.6 293.4 L360.6 294.7 L361.5 295.9 L362.5 297.1 L363.4 298.3 L364.4 299.5 L365.4 300.7 L366.3 301.9 L367.3 303.0 L368.4 304.1 L369.4 305.1 L370.5 306.1 L371.6 307.1 L372.8 308.0 L374.0 308.9 L375.2 309.7 L376.4 310.5 L377.6 311.3 L378.9 312.0 L380.2 312.7 L381.6 313.3 L382.9 314.0 L384.3 314.6 L385.6 315.2 L387.0 315.7 L388.4 316.3 L389.9 316.8 L391.3 317.3 L392.7 317.8 L394.2 318.3 L395.6 318.8 L397.1 319.3 L398.5 319.8 L400.0 320.3 L401.4 320.8 L402.9 321.2 L404.3 321.7 L405.8 322.2 L407.2 322.7 L408.6 323.3 L410.1 323.8 L411.5 324.3 L412.9 324.8 L414.4 325.3 L415.8 325.9 L417.2 326.4 L418.6 327.0 L420.0 327.5 L421.5 328.1 L422.9 328.6 L424.3 329.2 L425.7 329.7 L427.1 330.3 L428.5 330.9 L429.9 331.5 L431.3 332.0 L432.7 332.6 L434.1 333.2 L435.5 333.8 L436.9 334.4 L438.3 335.0 L439.7 335.6 L441.1 336.2 L442.5 336.8 L443.9 337.4 L445.3 338.0 L446.7 338.6 L448.0 339.3 L449.4 339.9 L450.8 340.5 L452.2 341.1 L453.6 341.8 L455.0 342.4 L456.4 343.0 L457.7 343.6 L459.1 344.3 L460.5 344.9 L461.9 345.6 L463.3 346.2 L464.7 346.9 L466.0 347.5 L467.4 348.1 L468.8 348.8 L470.2 349.4 L471.6 350.1 L473.0 350.7 L474.4 351.4 L475.7 352.0 L477.1 352.7 L478.5 353.4 L479.9 354.0 L481.3 354.7 L482.7 355.4 L484.1 356.0 L485.4 356.7 L486.8 357.4 L488.2 358.1 L489.5 358.8 L490.9 359.5 L492.2 360.2 L493.6 360.9 L494.9 361.7 L496.2 362.4 L497.6 363.2 L498.9 364.0 L500.2 364.8 L501.4 365.6 L502.7 366.4 L504.0 367.2 L505.2 368.1 L506.4 369.0 L507.7 369.9 L508.9 370.8 L510.0 371.7 L511.2 372.7 L512.4 373.6 L513.5 374.6 L514.6 375.6 L515.7 376.7 L516.8 377.7 L517.9 378.7 L519.0 379.8 L520.0 380.9 L521.1 382.0 L522.1 383.1 L523.1 384.2 L524.1 385.4 L525.1 386.5 L526.1 387.7 L527.1 388.8 L528.1 390.0 L529.0 391.2 L530.0 392.4 L530.9 393.6 L531.9 394.8 L532.8 396.0 L533.7 397.2 L534.7 398.4 L535.6 399.7 L536.5 400.9 L537.4 402.1 L538.3 403.4 L539.1 404.6 L540.0 405.9 L540.9 407.1 L541.7 408.4 L542.6 409.6 L543.5 410.9 L544.3 412.2 L545.1 413.5 L546.0 414.7 L546.8 416.0 L547.6 417.3 L548.4 418.6 L549.2 419.9 L550.0 421.2 L550.8 422.5 L551.6 423.8 L552.4 425.1 L553.1 426.5 L553.9 427.8 L554.7 429.1 L555.4 430.4 L556.2 431.8 L556.9 433.1 L557.6 434.4 L558.4 435.8 L559.1 437.1 L559.8 438.5 L560.5 439.8 L561.2 441.2 L561.9 442.5 L562.6 443.9 L563.3 445.2 L563.9 446.6 L564.6 448.0 L565.3 449.3 L565.9 450.7 L566.6 452.1 L567.2 453.5 L567.9 454.9 L568.5 456.2 L569.1 457.6 L569.8 459.0 L570.4 460.4 L571.0 461.8 L571.6 463.2 L572.2 464.6 L572.8 466.0 L573.4 467.4 L574.0 468.8 L574.6 470.2 L575.1 471.6 L575.7 473.0 L576.3 474.4 L576.8 475.8 L577.4 477.2 L578.0 478.6 L578.5 480.0 L579.0 481.5 L579.6 482.9 L580.1 484.3 L580.7 485.7 L581.2 487.1 L581.7 488.6 L582.3 490.0 L582.8 491.4 L583.3 492.8 L583.8 494.3 L584.3 495.7 L584.8 497.1 L585.4 498.6 L585.9 500.0 L586.4 501.4 L586.9 502.8 L587.4 504.3 L587.9 505.7 L588.4 507.1 L588.9 508.6 L589.4 510.0 L589.9 511.5 L590.4 512.9 L590.9 514.3 L591.4 515.8 L591.9 517.2 L592.4 518.6 L592.9 520.1 L593.4 521.5 L593.9 523.0 L594.4 524.4 L594.9 525.8 L595.4 527.3 L595.9 528.7 L596.4 530.2 L596.9 531.6 L597.4 533.0 L597.9 534.5 L598.4 535.9 L599.0 537.3 L599.5 538.8 L600.0 540.2 L600.5 541.7 L601.0 543.1 L601.6 544.5 L602.1 546.0 L602.6 547.4 L603.2 548.8 L603.7 550.3 L604.2 551.7 L604.8 553.1 L605.3 554.6 L605.9 556.0 L606.5 557.4 L607.0 558.8 L607.6 560.2 L608.2 561.7 L608.8 563.1 L609.4 564.5 L610.0 565.9 L610.6 567.3 L611.2 568.7 L611.9 570.0 L612.5 571.4 L613.2 572.8 L613.8 574.2 L614.5 575.5 L615.2 576.9 L615.9 578.2 L616.6 579.5 L617.4 580.9 L618.1 582.2 L618.9 583.5 L619.7 584.8 L620.5 586.0 L621.3 587.3 L622.1 588.6 L623.0 589.8 L623.8 591.0 L624.7 592.3 L625.6 593.5 L626.6 594.7 L627.5 595.8 L628.5 597.0 L629.5 598.2 L630.5 599.3 L631.5 600.4 L632.6 601.5 L633.6 602.6 L634.7 603.7 L635.8 604.8 L637.0 605.8 L638.1 606.9 L639.2 607.9 L640.4 608.9 L641.6 609.9 L642.7 610.9 L643.9 612.0 L645.1 613.0 L646.3 614.0 L647.4 614.9 L648.6 615.9 L649.8 616.9 L650.9 617.9 L652.1 618.9 L653.3 619.9 L654.4 620.9 L655.5 621.9 L656.7 622.9 L657.8 623.9 L658.9 624.8 L660.1 625.8 L661.2 626.8 L662.4 627.7 L663.5 628.7 L664.7 629.6 L665.9 630.5 L667.1 631.4 L668.3 632.3 L669.5 633.2 L670.7 634.0 L672.0 634.9 L673.3 635.7 L674.6 636.5 L675.9 637.3 L677.2 638.0 L678.5 638.8 L679.9 639.5 L681.2 640.2 L682.6 640.9 L684.0 641.6 L685.4 642.3 L686.8 642.9 L688.2 643.5 L689.6 644.2 L691.0 644.8 L692.5 645.3 L693.9 645.9 L695.4 646.5 L696.8 647.0 L698.3 647.5 L699.7 648.0 L701.2 648.5 L702.6 649.0 L704.1 649.5 L705.6 649.9 L707.0 650.3 L708.5 650.8 L710.0 651.2 L711.4 651.6 L712.9 651.9 L714.4 652.3 L715.9 652.6 L717.3 653.0 L718.8 653.3 L720.3 653.6 L721.8 653.9 L723.3 654.2 L724.8 654.5 L726.2 654.8 L727.7 655.0 L729.2 655.3 L730.7 655.5 L732.2 655.8 L733.7 656.0 L735.2 656.2 L736.7 656.4 L738.2 656.6 L739.7 656.7 L741.2 656.9 L742.7 657.1 L744.2 657.2 L745.7 657.4 L747.2 657.5 L748.7 657.6 L750.2 657.8 L751.7 657.9 L753.2 658.0 L754.7 658.1 L756.2 658.2 L757.7 658.3 L759.2 658.3 L760.7 658.4 L762.2 658.5 L763.8 658.6 L765.3 658.6 L766.8 658.7 L768.3 658.7 L769.8 658.8 L771.3 658.8 L772.9 658.8 L774.4 658.9 L775.9 658.9 L777.4 658.9 L778.9 658.9 L780.5 659.0 L782.0 659.0 L783.5 659.0 L785.0 659.0 L786.5 659.0 L788.1 659.0 L789.6 659.0 L791.1 659.0 L792.6 659.0 L794.2 659.0 L795.7 659.0 L797.2 659.0 L798.7 659.0 L800.3 659.0 L801.8 659.0 L803.3 659.0 L804.8 659.0 L806.4 659.0 L807.9 659.0 L809.4 659.0 L811.0 659.0 L812.5 659.0 L814.0 659.1 L815.5 659.1 L817.1 659.1 L818.6 659.1 L820.1 659.1 L821.7 659.1 L823.2 659.2 L824.7 659.2 L826.2 659.2 L827.8 659.3 L829.3 659.3 L830.8 659.3 L832.4 659.4 L833.9 659.4 L835.4 659.5 L836.9 659.6 L838.5 659.6 L840.0 659.7 L841.5 659.8 L843.0 659.9 L844.6 660.0 L846.1 660.1 L847.6 660.2 L849.1 660.3 L850.7 660.4 L852.2 660.6 L853.7 660.7 L855.2 660.9 L856.8 661.0 L858.3 661.2 L859.8 661.3 L861.3 661.5 L862.9 661.7 L864.4 661.9 L865.9 662.1 L867.4 662.3 L868.9 662.5 L870.5 662.7 L872.0 662.9 L873.5 663.2 L875.0 663.4 L876.5 663.6 L878.1 663.8 L879.6 664.1 L881.1 664.3 L882.6 664.6 L884.1 664.8 L885.6 665.1 L887.1 665.3 L888.7 665.6 L890.2 665.8 L891.7 666.1 L893.2 666.4 L894.7 666.6 L896.2 666.9 L897.7 667.1 L899.3 667.4 L900.8 667.7 L902.3 667.9 L903.8 668.2 L905.3 668.4 L906.8 668.7 L908.3 669.0 L909.8 669.2 L911.3 669.5 L912.8 669.7 L914.3 670.0 L915.9 670.2 L917.4 670.4 L918.9 670.7 L920.4 670.9 L921.9 671.1 L923.4 671.4 L924.9 671.6 L926.4 671.8 L927.9 672.0 L929.4 672.2 L930.9 672.4 L932.4 672.6 L933.9 672.8 L935.4 673.0 L936.9 673.2 L938.4 673.3 L939.9 673.5 L941.4 673.6 L942.9 673.8 L944.4 673.9 L945.9 674.0 L947.4 674.2 L948.9 674.3 L950.4 674.4 L951.9 674.5 L953.4 674.5 L954.9 674.6 L956.4 674.7 L957.9 674.7 L959.4 674.8 L960.9 674.8 L962.4 674.8 L963.9 674.8 L965.4 674.8 L966.9 674.8 L968.4 674.7 L969.9 674.7 L971.4 674.6 L972.9 674.6 L974.4 674.5 L975.9 674.4 L977.4 674.3 L978.9 674.1 L980.3 674.0 L981.8 673.8 L983.3 673.7 L984.8 673.5 L986.3 673.3 L987.8 673.1 L989.3 672.8 L990.8 672.6 L992.3 672.3 L993.8 672.0 L995.3 671.7 L996.8 671.4 L998.2 671.0 L999.7 670.7 L1001.2 670.3 L1002.7 669.9 L1004.2 669.5 L1005.7 669.0 L1007.2 668.6 L1008.7 668.1 L1010.1 667.6 L1011.6 667.1 L1013.1 666.6 L1014.6 666.0 L1016.1 665.4 L1017.6 664.8 L1019.1 664.2 L1020.6 663.5" stroke="#ff0000"/>
</g>
<path d="M156.6 671.3H165.6 M1020.1 671.3H1011.1 M156.6 562.0H165.6 M1020.1 562.0H1011.1 M156.6 452.8H165.6 M1020.1 452.8H1011.1 M156.6 343.5H165.6 M1020.1 343.5H1011.1 M156.6 234.2H165.6 M1020.1 234.2H1011.1 M156.6 125.0H165.6 M1020.1 125.0H1011.1 M156.6 15.7H165.6 M1020.1 15.7H1011.1 M156.6 676.8V668.3 M156.6 15.7V24.2 M329.3 676.8V668.3 M329.3 15.7V24.2 M502.0 676.8V668.3 M502.0 15.7V24.2 M674.7 676.8V668.3 M674.7 15.7V24.2 M847.4 676.8V668.3 M847.4 15.7V24.2 M1020.1 676.8V668.3 M1020.1 15.7V24.2" stroke="#000" stroke-width="1.5" fill="none"/>
<rect x="156.6" y="15.7" width="863.5" height="661.1" fill="none" stroke="#000" stroke-width="1.5"/>
<g class="tk">
<text x="124.94" y="686.40">0</text>
<text x="66.56 89.91 101.58 124.94" y="577.13">0.02</text>
<text x="66.56 89.91 101.58 124.94" y="467.87">0.04</text>
<text x="66.56 89.91 101.58 124.94" y="358.60">0.06</text>
<text x="66.56 89.91 101.58 124.94" y="249.33">0.08</text>
<text x="89.91 113.27 126.34" y="140.07">0.1</text>
<text x="66.56 89.91 102.98 124.94" y="30.80">0.12</text>
<text x="144.92" y="723.30">0</text>
<text x="300.11 323.47 335.13" y="723.30">0.2</text>
<text x="472.81 496.17 507.83" y="723.30">0.4</text>
<text x="645.51 668.87 680.53" y="723.30">0.6</text>
<text x="818.21 841.57 853.23" y="723.30">0.8</text>
<text x="1009.82" y="723.30">1</text>
</g>
<g fill="#fff"><rect x="128.74" y="135.73" width="8.16" height="5.24"/><rect x="140.62" y="135.73" width="7.83" height="5.24"/><rect x="105.38" y="26.46" width="8.16" height="5.24"/><rect x="117.26" y="26.46" width="7.83" height="5.24"/><rect x="1012.22" y="718.96" width="8.16" height="5.24"/><rect x="1024.09" y="718.96" width="7.83" height="5.24"/></g>
<g><text class="mi" x="555.10" y="769.50" font-size="52" stroke-width="0.70" textLength="26.22" lengthAdjust="spacingAndGlyphs">r</text>
<text class="rm" x="587.50" y="782.90" font-size="84" stroke-width="0.75" textLength="19.53" lengthAdjust="spacingAndGlyphs">/</text>
<text class="mi" x="612.30" y="769.50" font-size="52" stroke-width="0.70" textLength="30.26" lengthAdjust="spacingAndGlyphs">a</text></g>
<g><text class="mi" transform="translate(43.00,0) rotate(-90)" x="-476.90" y="0" font-size="53" stroke-width="0.71" textLength="36.20" lengthAdjust="spacingAndGlyphs">n</text>
<text class="mi" transform="translate(48.80,0) rotate(-90)" x="-441.80" y="0" font-size="38" stroke-width="0.51" textLength="22.78" lengthAdjust="spacingAndGlyphs">α</text>
<text class="rm" transform="translate(43.90,0) rotate(-90)" x="-416.40" y="0" font-size="61.7" stroke-width="0.75" textLength="16.00" lengthAdjust="spacingAndGlyphs">(</text>
<text class="rm" transform="translate(43.00,0) rotate(-90)" x="-399.50" y="0" font-size="55" stroke-width="0.74" textLength="29.74" lengthAdjust="spacingAndGlyphs">1</text>
<text class="rm" transform="translate(43.00,0) rotate(-90)" x="-370.60" y="0" font-size="55" stroke-width="0.74" textLength="28.76" lengthAdjust="spacingAndGlyphs">0</text>
<text class="mi" transform="translate(43.00,0) rotate(-90)" x="-341.10" y="0" font-size="53" stroke-width="0.71" textLength="25.06" lengthAdjust="spacingAndGlyphs">e</text>
<text class="rm" transform="translate(43.00,0) rotate(-90)" x="-315.30" y="0" font-size="55" stroke-width="0.74" textLength="26.99" lengthAdjust="spacingAndGlyphs">1</text>
<text class="rm" transform="translate(43.00,0) rotate(-90)" x="-288.70" y="0" font-size="55" stroke-width="0.74" textLength="28.16" lengthAdjust="spacingAndGlyphs">9</text>
<text class="rm" transform="translate(55.90,0) rotate(-90)" x="-256.80" y="0" font-size="83.3" stroke-width="0.75" textLength="27.17" lengthAdjust="spacingAndGlyphs">/</text>
<text class="mi" transform="translate(43.00,0) rotate(-90)" x="-230.70" y="0" font-size="53" stroke-width="0.71" textLength="49.63" lengthAdjust="spacingAndGlyphs">m</text>
<text class="rm" transform="translate(25.00,0) rotate(-90)" x="-180.60" y="0" font-size="36" stroke-width="0.48" textLength="18.16" lengthAdjust="spacingAndGlyphs">3</text>
<text class="rm" transform="translate(43.90,0) rotate(-90)" x="-162.90" y="0" font-size="61.7" stroke-width="0.75" textLength="17.52" lengthAdjust="spacingAndGlyphs">)</text></g>
<!-- legend -->
<rect x="537.3" y="14.6" width="481.0" height="225.8" fill="#fff" stroke="#000" stroke-width="1.4"/>
<path d="M558 54.6H664.4" stroke="#000" stroke-width="6"/>
<path d="M558 124.6H664.4" stroke="#008000" stroke-width="6"/>
<path d="M558 197H664.4" stroke="#ff0000" stroke-width="6"/>
<text class="mi" x="675.00" y="65.60" font-size="56" stroke-width="0.75" textLength="29.24" lengthAdjust="spacingAndGlyphs">o</text>
<text class="mi" x="700.70" y="65.60" font-size="56" stroke-width="0.75" textLength="23.81" lengthAdjust="spacingAndGlyphs">r</text>
<text class="mi" x="729.80" y="65.60" font-size="56" stroke-width="0.75" textLength="13.94" lengthAdjust="spacingAndGlyphs">i</text>
<text class="mi" x="749.10" y="65.60" font-size="56" stroke-width="0.75" textLength="25.50" lengthAdjust="spacingAndGlyphs">g</text>
<text class="mi" x="775.80" y="65.60" font-size="56" stroke-width="0.75" textLength="15.83" lengthAdjust="spacingAndGlyphs">i</text>
<text class="mi" x="793.70" y="65.60" font-size="56" stroke-width="0.75" textLength="34.53" lengthAdjust="spacingAndGlyphs">n</text>
<text class="mi" x="828.80" y="65.60" font-size="56" stroke-width="0.75" textLength="30.61" lengthAdjust="spacingAndGlyphs">a</text>
<text class="mi" x="857.30" y="65.60" font-size="56" stroke-width="0.75" textLength="19.26" lengthAdjust="spacingAndGlyphs">l</text>
<text class="mi" x="673.90" y="134.20" font-size="52" stroke-width="0.70" textLength="25.59" lengthAdjust="spacingAndGlyphs">r</text>
<text class="mi" x="699.70" y="140.00" font-size="38" stroke-width="0.51" textLength="18.73" lengthAdjust="spacingAndGlyphs">q</text>
<text class="mi" x="716.60" y="145.40" font-size="26" stroke-width="0.35" textLength="52.98" lengthAdjust="spacingAndGlyphs">min</text>
<text class="rm" x="760.10" y="147.20" font-size="83" stroke-width="0.75" textLength="20.39" lengthAdjust="spacingAndGlyphs">/</text>
<text class="mi" x="785.20" y="134.20" font-size="52" stroke-width="0.70" textLength="28.12" lengthAdjust="spacingAndGlyphs">a</text>
<text class="rm" x="825.20" y="138.90" font-size="56" stroke-width="0.20" textLength="44.10" lengthAdjust="spacingAndGlyphs">=</text>
<text class="rm" x="882.10" y="134.00" font-size="55" stroke-width="0.00" textLength="27.40" lengthAdjust="spacingAndGlyphs">0</text>
<text class="rm" x="910.10" y="134.00" font-size="55" stroke-width="0.00" textLength="14.21" lengthAdjust="spacingAndGlyphs">.</text>
<text class="rm" x="925.80" y="134.00" font-size="55" stroke-width="0.00" textLength="26.85" lengthAdjust="spacingAndGlyphs">4</text>
<text class="rm" x="955.00" y="134.00" font-size="55" stroke-width="0.00" textLength="28.76" lengthAdjust="spacingAndGlyphs">9</text>
<text class="rm" x="981.70" y="134.00" font-size="55" stroke-width="0.00" textLength="27.61" lengthAdjust="spacingAndGlyphs">2</text>
<text class="mi" x="673.90" y="206.90" font-size="52" stroke-width="0.70" textLength="25.59" lengthAdjust="spacingAndGlyphs">r</text>
<text class="mi" x="699.70" y="212.70" font-size="38" stroke-width="0.51" textLength="18.73" lengthAdjust="spacingAndGlyphs">q</text>
<text class="mi" x="716.60" y="218.10" font-size="26" stroke-width="0.35" textLength="52.98" lengthAdjust="spacingAndGlyphs">min</text>
<text class="rm" x="760.10" y="219.90" font-size="83" stroke-width="0.75" textLength="20.39" lengthAdjust="spacingAndGlyphs">/</text>
<text class="mi" x="785.20" y="206.90" font-size="52" stroke-width="0.70" textLength="28.12" lengthAdjust="spacingAndGlyphs">a</text>
<text class="rm" x="825.20" y="211.60" font-size="56" stroke-width="0.20" textLength="44.10" lengthAdjust="spacingAndGlyphs">=</text>
<text class="rm" x="882.10" y="206.70" font-size="55" stroke-width="0.00" textLength="27.40" lengthAdjust="spacingAndGlyphs">0</text>
<text class="rm" x="910.10" y="206.70" font-size="55" stroke-width="0.00" textLength="14.21" lengthAdjust="spacingAndGlyphs">.</text>
<text class="rm" x="924.70" y="206.70" font-size="55" stroke-width="0.00" textLength="28.84" lengthAdjust="spacingAndGlyphs">5</text>
<text class="rm" x="955.00" y="206.70" font-size="55" stroke-width="0.00" textLength="27.57" lengthAdjust="spacingAndGlyphs">6</text>
<text class="rm" x="980.70" y="206.70" font-size="55" stroke-width="0.00" textLength="28.92" lengthAdjust="spacingAndGlyphs">5</text>
</svg>
</body></html>
